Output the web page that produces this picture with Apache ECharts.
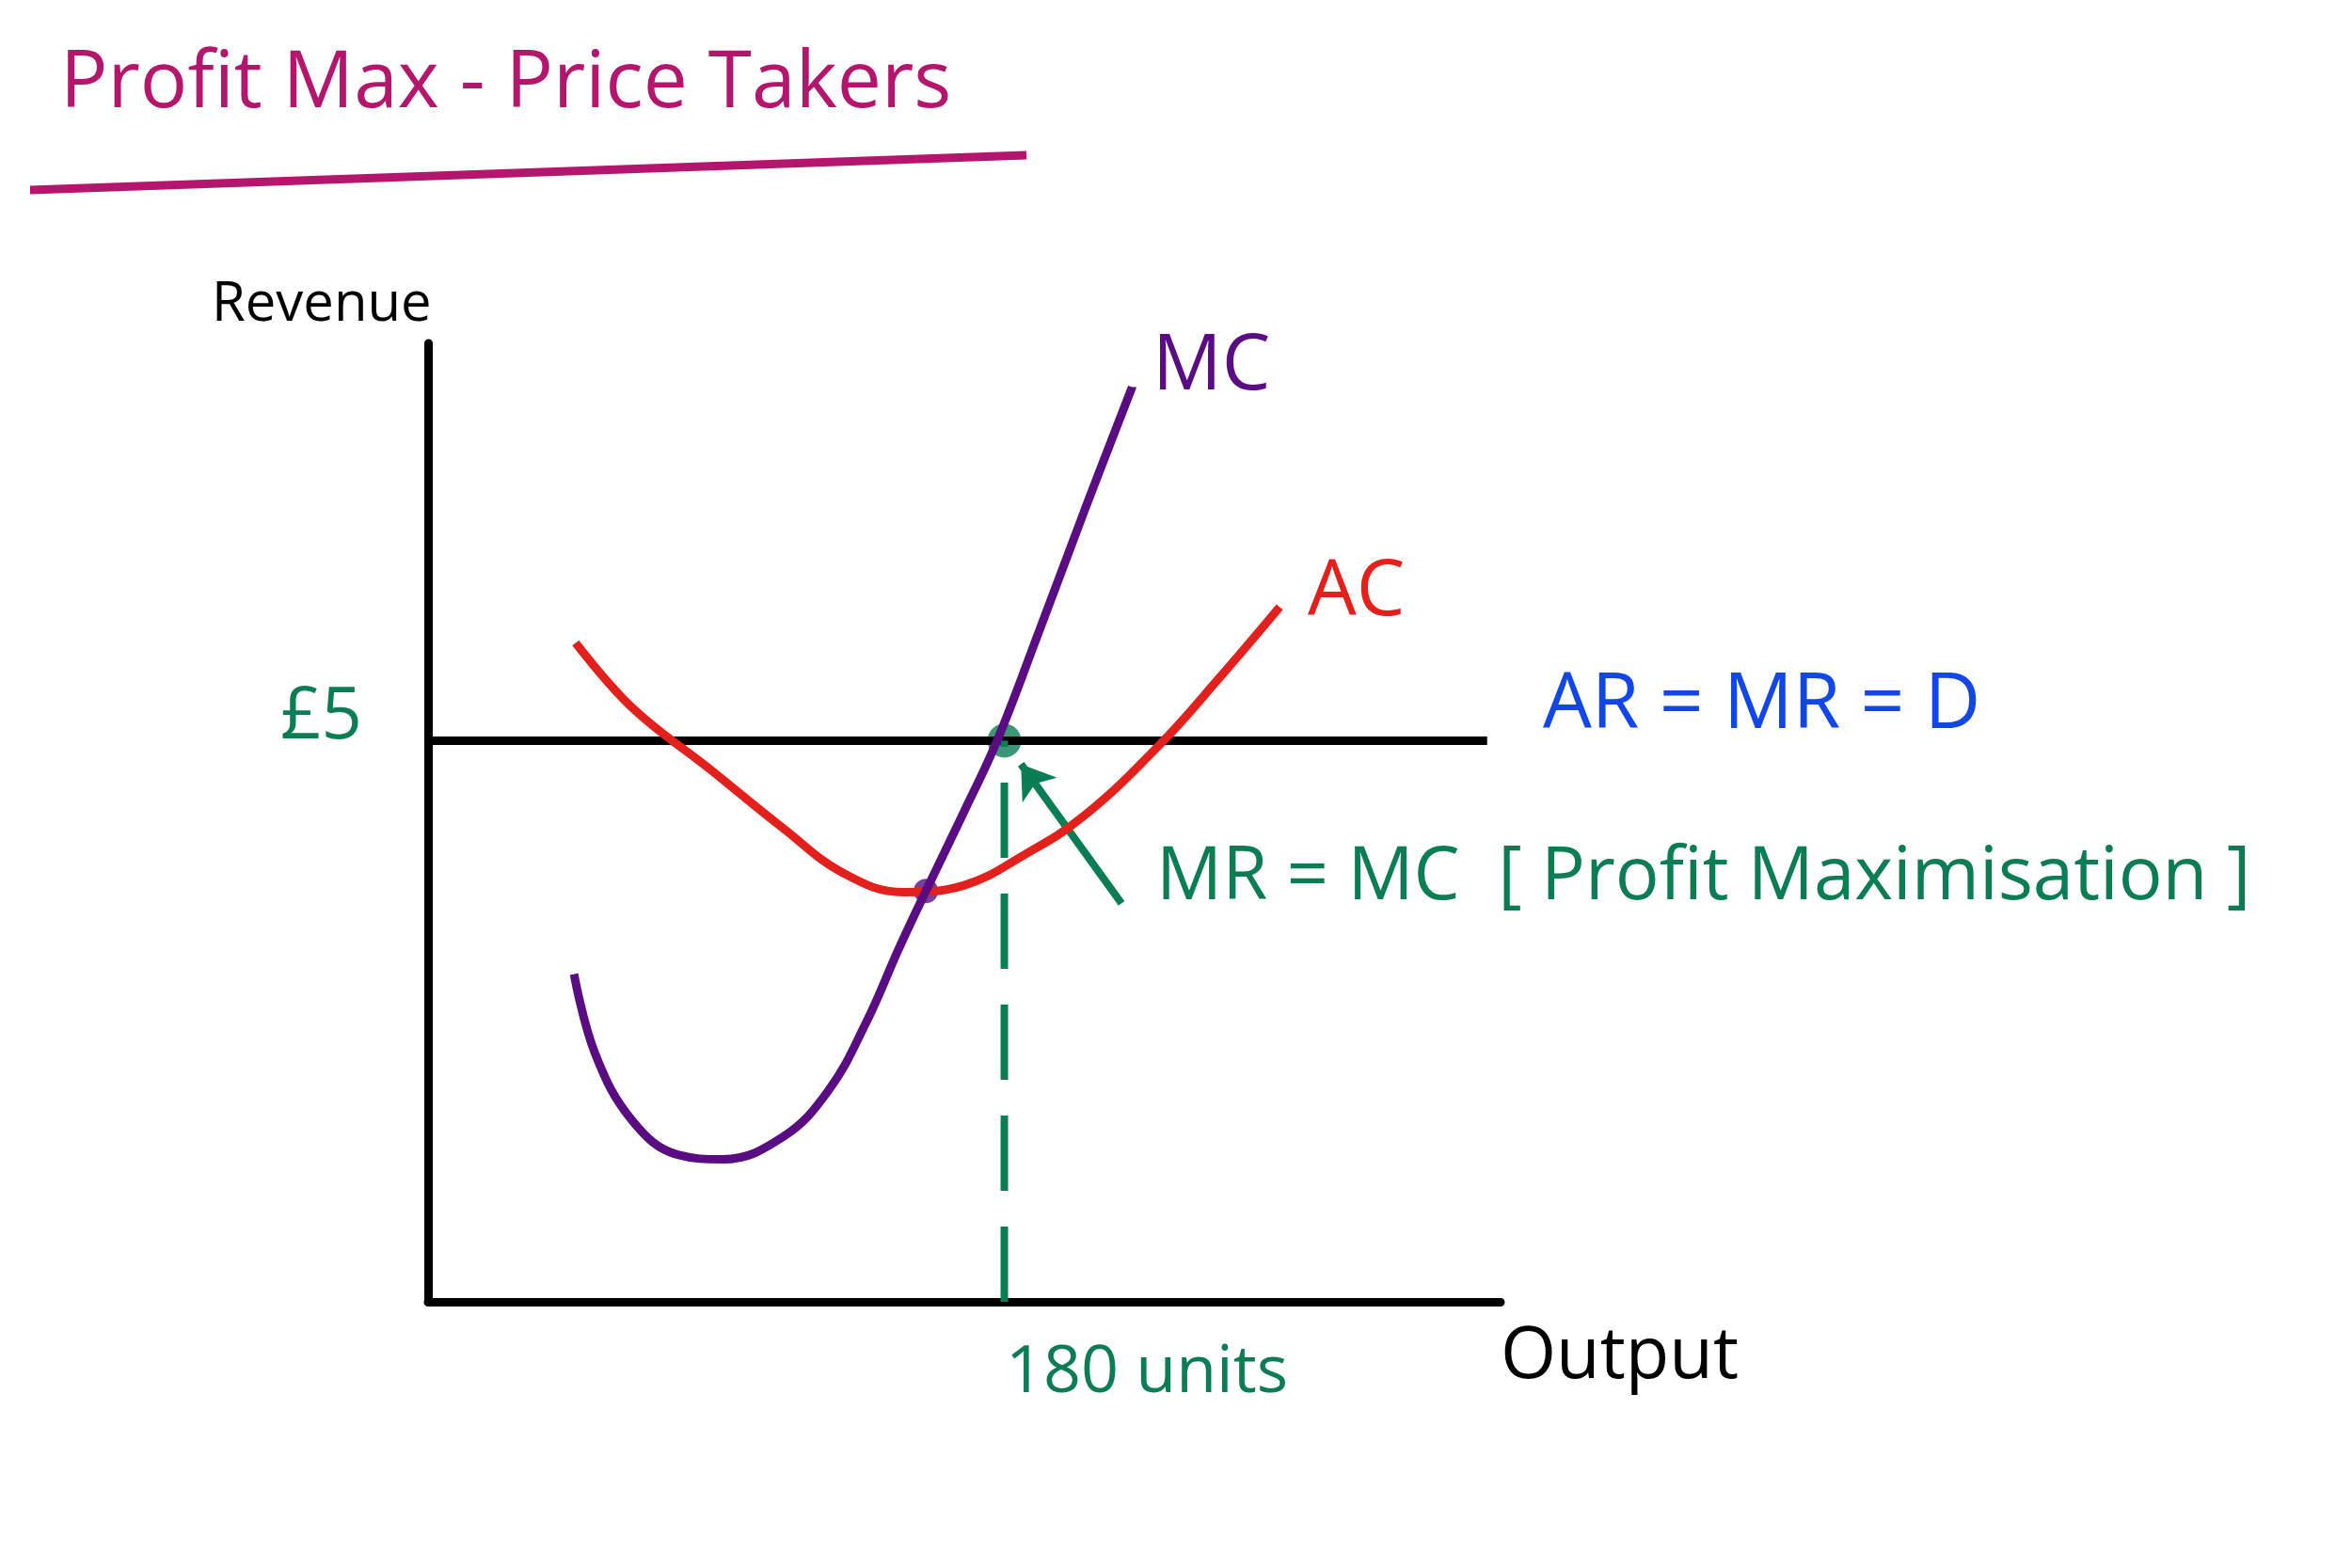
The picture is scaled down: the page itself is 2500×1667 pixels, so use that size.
<!DOCTYPE html>
<html>
<head>
<meta charset="utf-8">
<script src="https://cdn.jsdelivr.net/npm/echarts@6/dist/echarts.min.js"></script>
<style>html,body{margin:0;background:#fff}#chart{width:2500px;height:1667px}</style>
</head>
<body>
<div id="chart"></div>
<script>
// data (x = output units, y = revenue £)
var mcData = [[45.6,2.92],[52.2,2.21],[63.9,1.61],[78,1.31],[92.1,1.27],[110.9,1.47],[125,1.88],[136.7,2.48],[147.1,3.15],[155.5,3.66],[167.3,4.36],[177.6,4.99],[190.8,5.97],[204.9,7.04],[219.9,8.15]];
var acData = [[46.1,5.87],[63.9,5.29],[87.4,4.76],[110.9,4.22],[129.7,3.82],[148.5,3.65],[167.3,3.71],[186.1,3.98],[204.9,4.33],[228.4,4.96],[247.2,5.56],[266,6.19]];
var arData = [[0,5],[330.8,5]];
var qData = [[180,0],[180,5]];
var eqPoint = [[180,5]];
var minAcPoint = [[155.5,3.66]];
var arrowData = [[[216.6,3.55],[185.2,4.79]]];

var green = '#0b7d52', purple = '#5a0c82', red = '#e3201c', blue = '#1047e6', pink = '#b3166c';
var font = '"Open Sans", sans-serif';

var chart = echarts.init(document.getElementById('chart'));
chart.setOption({
    animation: false,
    backgroundColor: '#fff',
    grid: {left: 455, right: 905, top: 365, bottom: 283},
    xAxis: {type: 'value', min: 0, max: 335, axisLine: {onZero: false, lineStyle: {color: '#000', width: 9}}, axisTick: {show: false}, axisLabel: {show: false}, splitLine: {show: false}},
    yAxis: {type: 'value', min: 0, max: 8.54, axisLine: {show: true, lineStyle: {color: '#000', width: 9}}, axisTick: {show: false}, axisLabel: {show: false}, splitLine: {show: false}},
    series: [
        {type: 'line', data: arData, symbol: 'none', lineStyle: {color: '#000', width: 9}},
        {type: 'line', data: qData, symbol: 'none', lineStyle: {color: green, width: 8, type: [80, 38]}},
        {type: 'line', data: acData, smooth: 0.4, symbol: 'none', lineStyle: {color: red, width: 9}},
        {type: 'line', data: mcData, smooth: 0.4, symbol: 'none', lineStyle: {color: purple, width: 9}},
        {type: 'scatter', data: minAcPoint, symbolSize: 26, itemStyle: {color: purple}},
        {type: 'scatter', data: eqPoint, symbolSize: 36, itemStyle: {color: green}},
        {type: 'lines', coordinateSystem: 'cartesian2d', data: arrowData.map(function (c) { return {coords: c}; }),
            symbol: ['none', 'arrow'], symbolSize: 34, lineStyle: {color: green, width: 8, opacity: 1}}
    ],
    graphic: [
        {type: 'text', left: 64, top: 48, style: {text: 'Profit Max - Price Takers', font: '84px ' + font, fill: pink}},
        {type: 'line', shape: {x1: 32, y1: 202, x2: 1091, y2: 165}, style: {stroke: pink, lineWidth: 9}},
        {type: 'text', left: 225, top: 295, style: {text: 'Revenue', font: '58px ' + font, fill: '#000'}},
        {type: 'text', left: 1595, top: 1405, style: {text: 'Output', font: '76px ' + font, fill: '#000'}},
        {type: 'text', left: 298, top: 725, style: {text: '£5', font: '76px ' + font, fill: green}},
        {type: 'text', left: 1069, top: 1425, style: {text: '180 units', font: '70px ' + font, fill: green}},
        {type: 'text', left: 1225, top: 350, style: {text: 'MC', font: '82px ' + font, fill: purple}},
        {type: 'text', left: 1390, top: 590, style: {text: 'AC', font: '82px ' + font, fill: red}},
        {type: 'text', left: 1640, top: 710, style: {text: 'AR = MR = D', font: '82px ' + font, fill: blue}},
        {type: 'text', left: 1229, top: 895, style: {text: 'MR = MC  [ Profit Maximisation ]', font: '78px ' + font, fill: green}}
    ]
});
</script>
</body>
</html>
